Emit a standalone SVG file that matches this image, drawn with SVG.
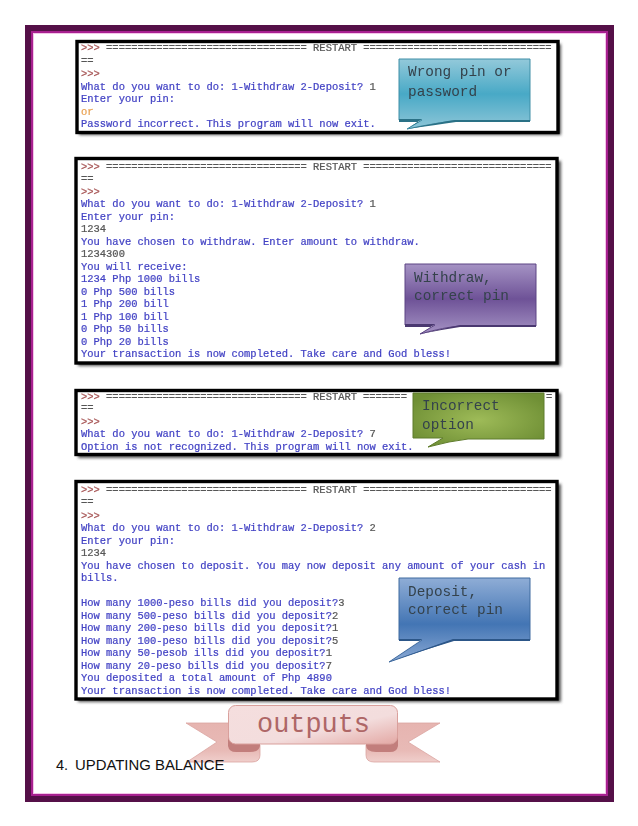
<svg xmlns="http://www.w3.org/2000/svg" width="638" height="826" viewBox="0 0 638 826">
<style>
text{font-family:"Liberation Mono","Courier New",monospace}
.t{font-size:10.46px;fill:#4242c4;stroke:#4242c4;stroke-width:.22;filter:url(#soft)}
.p{fill:#a85858;stroke:#a85858}
.g{fill:#555;stroke:#555}
.o{fill:#e8a050;stroke:#e8a050}
.box{fill:#fff;stroke:#000;stroke-width:3.4}
.sh{fill:#555;filter:url(#blur)}
.c{font-size:14.4px;fill:#34424c;filter:url(#soft)}
.fold{fill:#c27e7c}
.tail{fill:url(#tailp);stroke:#dba5a1;stroke-width:.8}
</style>
<defs>
<filter id="soft" x="-5%" y="-30%" width="110%" height="160%"><feGaussianBlur stdDeviation="0.3"/></filter>
<filter id="blur" x="-5%" y="-10%" width="110%" height="120%"><feGaussianBlur stdDeviation="1.5"/></filter>
<linearGradient id="teal" x1="0" y1="0" x2="0" y2="1"><stop offset="0" stop-color="#93c9da"/><stop offset=".5" stop-color="#48a9c6"/><stop offset="1" stop-color="#8ec6d8"/></linearGradient>
<linearGradient id="purple" x1="0" y1="0" x2="0" y2="1"><stop offset="0" stop-color="#a593c4"/><stop offset=".5" stop-color="#6e5297"/><stop offset="1" stop-color="#a593c4"/></linearGradient>
<linearGradient id="blue" x1="0" y1="0" x2="0" y2="1"><stop offset="0" stop-color="#8fadd6"/><stop offset=".55" stop-color="#4375b4"/><stop offset="1" stop-color="#8aa9d4"/></linearGradient>
<radialGradient id="green" cx=".5" cy=".5" r=".6"><stop offset="0" stop-color="#9ebb58"/><stop offset="1" stop-color="#6f8f35"/></radialGradient>
<linearGradient id="pink" x1="0" y1="0" x2="1" y2="1"><stop offset="0" stop-color="#f5dede"/><stop offset=".6" stop-color="#f3dddd"/><stop offset="1" stop-color="#e3a8a4"/></linearGradient>
<linearGradient id="tailp" x1="0" y1="0" x2="0" y2="1"><stop offset="0" stop-color="#e6b4b0"/><stop offset=".7" stop-color="#e8bab6"/><stop offset="1" stop-color="#f0cfcc"/></linearGradient>
</defs>

<g id="frame">
<rect x="28" y="28" width="583" height="771" fill="none" stroke="#551048" stroke-width="6"/>
<rect x="32" y="32" width="575" height="763" fill="none" stroke="#a82090" stroke-width="2"/>
<rect x="33.500" y="33.500" width="572" height="760" fill="none" stroke="#f3c4e8" stroke-width="1"/>
</g>

<g id="terminal-1">
<rect class="sh" x="79" y="44" width="482" height="91"/>
<rect class="box" x="77" y="41.500" width="481" height="91"/>
<text class="t" x="81" y="51"><tspan class="p">&gt;&gt;&gt; </tspan><tspan class="g">================================ RESTART ==============================</tspan></text>
<text class="t g" x="81" y="64">==</text>
<text class="t p" x="81" y="77">&gt;&gt;&gt;</text>
<text class="t" x="81" y="90">What do you want to do: 1-Withdraw 2-Deposit? <tspan class="g">1</tspan></text>
<text class="t" x="81" y="102">Enter your pin:</text>
<text class="t o" x="81" y="115">or</text>
<text class="t" x="81" y="127">Password incorrect. This program will now exit.</text>
</g>

<g id="terminal-2">
<rect class="sh" x="78" y="161" width="483" height="205"/>
<rect class="box" x="76" y="158.500" width="481" height="204.500"/>
<text class="t" x="81" y="170"><tspan class="p">&gt;&gt;&gt; </tspan><tspan class="g">================================ RESTART ==============================</tspan></text>
<text class="t g" x="81" y="182">==</text>
<text class="t p" x="81" y="195">&gt;&gt;&gt;</text>
<text class="t" x="81" y="207">What do you want to do: 1-Withdraw 2-Deposit? <tspan class="g">1</tspan></text>
<text class="t" x="81" y="220">Enter your pin:</text>
<text class="t g" x="81" y="232">1234</text>
<text class="t" x="81" y="245">You have chosen to withdraw. Enter amount to withdraw.</text>
<text class="t g" x="81" y="257">1234300</text>
<text class="t" x="81" y="270">You will receive:</text>
<text class="t" x="81" y="282">1234 Php 1000 bills</text>
<text class="t" x="81" y="295">0 Php 500 bills</text>
<text class="t" x="81" y="307">1 Php 200 bill</text>
<text class="t" x="81" y="320">1 Php 100 bill</text>
<text class="t" x="81" y="332">0 Php 50 bills</text>
<text class="t" x="81" y="345">0 Php 20 bills</text>
<text class="t" x="81" y="357">Your transaction is now completed. Take care and God bless!</text>
</g>

<g id="terminal-3">
<rect class="sh" x="78" y="393" width="483" height="65"/>
<rect class="box" x="76" y="390.500" width="481" height="64"/>
<text class="t" x="81" y="400"><tspan class="p">&gt;&gt;&gt; </tspan><tspan class="g">================================ RESTART</tspan></text>
<text class="t g" x="363" y="400">=======</text>
<text class="t g" x="546" y="400">=</text>
<text class="t g" x="81" y="411">==</text>
<text class="t p" x="81" y="425">&gt;&gt;&gt;</text>
<text class="t" x="81" y="437">What do you want to do: 1-Withdraw 2-Deposit? <tspan class="g">7</tspan></text>
<text class="t" x="81" y="450">Option is not recognized. This program will now exit.</text>
</g>

<g id="terminal-4">
<rect class="sh" x="78" y="484" width="483" height="218"/>
<rect class="box" x="76" y="481.500" width="481" height="217.500"/>
<text class="t" x="81" y="493"><tspan class="p">&gt;&gt;&gt; </tspan><tspan class="g">================================ RESTART ==============================</tspan></text>
<text class="t g" x="81" y="505">==</text>
<text class="t p" x="81" y="519">&gt;&gt;&gt;</text>
<text class="t" x="81" y="531">What do you want to do: 1-Withdraw 2-Deposit? <tspan class="g">2</tspan></text>
<text class="t" x="81" y="544">Enter your pin:</text>
<text class="t g" x="81" y="556">1234</text>
<text class="t" x="81" y="569">You have chosen to deposit. You may now deposit any amount of your cash in</text>
<text class="t" x="81" y="581">bills.</text>
<text class="t" x="81" y="606">How many 1000-peso bills did you deposit?<tspan class="g">3</tspan></text>
<text class="t" x="81" y="619">How many 500-peso bills did you deposit?<tspan class="g">2</tspan></text>
<text class="t" x="81" y="631">How many 200-peso bills did you deposit?<tspan class="g">1</tspan></text>
<text class="t" x="81" y="644">How many 100-peso bills did you deposit?<tspan class="g">5</tspan></text>
<text class="t" x="81" y="656">How many 50-pesob ills did you deposit?<tspan class="g">1</tspan></text>
<text class="t" x="81" y="669">How many 20-peso bills did you deposit?<tspan class="g">7</tspan></text>
<text class="t" x="81" y="681">You deposited a total amount of Php 4890</text>
<text class="t" x="81" y="694">Your transaction is now completed. Take care and God bless!</text>
</g>

<g id="callout-wrong">
<path d="M399 59H530V121H455Q440 122 407 129L422 120H399Z" fill="url(#teal)" stroke="#3f8ea6" stroke-width="1"/>
<path d="M399 119H422L407 129Q440 122 455 120H530V122H456Q436 125 407 129L419 122H399Z" fill="#2a7186"/>
<text class="c" x="408" y="76">Wrong pin or</text>
<text class="c" x="408" y="96">password</text>
</g>

<g id="callout-withdraw">
<path d="M405 264H536V326H460Q445 327 420 334L435 325H405Z" fill="url(#purple)" stroke="#5d4584" stroke-width="1"/>
<path d="M405 324H435L420 334Q445 328 460 325H536V327H460Q440 330 420 334L431 327H405Z" fill="#4a3870"/>
<text class="c" x="414" y="282">Withdraw,</text>
<text class="c" x="414" y="300">correct pin</text>
</g>

<g id="callout-incorrect">
<path d="M413 393H544V439H468Q450 441 428 447L443 438H413Z" fill="url(#green)" stroke="#5f7c2c" stroke-width="1"/>
<text class="c" x="422" y="410">Incorrect</text>
<text class="c" x="422" y="429">option</text>
</g>

<g id="callout-deposit">
<path d="M399 578H530V640H453L389 662L422 640H399Z" fill="url(#blue)" stroke="#3f6a9f" stroke-width="1"/>
<path d="M399 639H422L389 662L453 639H530V641H454Q420 651 389 662L419 641H399Z" fill="#2c5688"/>
<text class="c" x="408" y="596">Deposit,</text>
<text class="c" x="408" y="614">correct pin</text>
</g>

<g id="banner-outputs">
<path class="tail" d="M186 723H232V745H260V755Q260 762 252 762H187L217 742Z"/>
<path class="tail" d="M440 723H394V745H366V755Q366 762 374 762H440L408 742Z"/>
<path class="fold" d="M228 736V746Q229 752 236 752H250Q260 752 260 745V736Z"/>
<path class="fold" d="M398 736V746Q397 752 390 752H376Q366 752 366 745V736Z"/>
<rect x="228.500" y="705.500" width="169" height="38.500" rx="7" fill="url(#pink)" stroke="#d9a09c" stroke-width="1"/>
<text x="313.500" y="732" text-anchor="middle" style="font-size:26.9px;fill:#ae6666">outputs</text>
</g>

<g id="page-heading">
<text x="56" y="770" style="font-family:'Liberation Sans',Arial,sans-serif;font-size:14.6px;fill:#111">4.</text>
<text x="75" y="770" style="font-family:'Liberation Sans',Arial,sans-serif;font-size:14.9px;fill:#111">UPDATING BALANCE</text>
</g>
<g id="connectors"/>
</svg>
